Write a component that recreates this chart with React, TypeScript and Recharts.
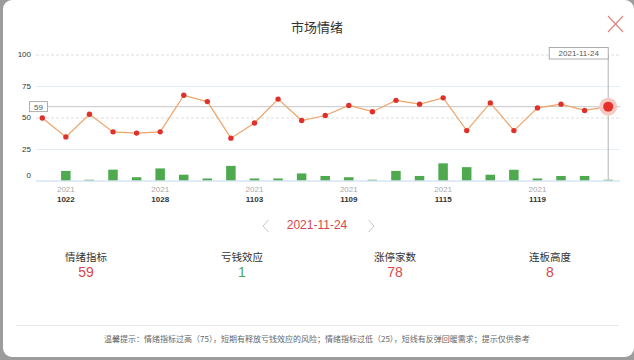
import { Bar, ComposedChart, Line, ReferenceLine, XAxis, YAxis } from "recharts";

const dates = [
  "2021-10-21", "2021-10-22", "2021-10-25", "2021-10-26", "2021-10-27",
  "2021-10-28", "2021-10-29", "2021-11-01", "2021-11-02", "2021-11-03",
  "2021-11-04", "2021-11-05", "2021-11-08", "2021-11-09", "2021-11-10",
  "2021-11-11", "2021-11-12", "2021-11-15", "2021-11-16", "2021-11-17",
  "2021-11-18", "2021-11-19", "2021-11-22", "2021-11-23", "2021-11-24",
];
// 情绪指标
const emotionIndex = [50, 35, 53, 39, 38, 39, 68, 63, 34, 46, 65, 48, 52, 60, 55, 64, 61, 66, 40, 62, 40, 58, 61, 56, 59];
// 亏钱效应
const lossEffect = [0, 8, 1, 9, 3, 10, 5, 2, 12, 2, 2, 6, 4, 3, 1, 8, 4, 14, 11, 5, 9, 2, 4, 4, 1];
const labeledDates = ["2021-10-22", "2021-10-28", "2021-11-03", "2021-11-09", "2021-11-15", "2021-11-19"];
const yTicks = [0, 25, 50, 75, 100];
const selectedDate = "2021-11-24";

const statLabels = ["情绪指标", "亏钱效应", "涨停家数", "连板高度"];
const statValues = ["59", "1", "78", "8"];
const statCenters = [86, 242, 395, 550];

const FONT = '"Liberation Sans", "Noto Sans CJK SC", sans-serif';
const CJK = '"Noto Sans CJK SC", sans-serif';
const RED = "#d8474b";
const GREEN = "#4fa94f";

const data = dates.map((date, i) => ({ date, emotion: emotionIndex[i], loss: lossEffect[i] }));
const selectedIdx = dates.indexOf(selectedDate);

function DateTick({ x, y, payload }: any) {
  if (!labeledDates.includes(payload.value)) return <g />;
  const [yr, m, d] = String(payload.value).split("-");
  return (
    <g fontFamily={FONT} fontSize={8} textAnchor="middle">
      <text x={x} y={y + 11} fill="#aaa">{yr}</text>
      <text x={x} y={y + 20.5} fill="#333" fontWeight={600}>{m + d}</text>
    </g>
  );
}

function ValueTick({ y, payload }: any) {
  const dy = payload.value === 0 ? -2.8 : 2;
  return (
    <text x={31} y={y + dy} textAnchor="end" fontSize={8} fontFamily={FONT} fill="#333">
      {payload.value}
    </text>
  );
}

function EmotionDot({ cx, cy, payload }: any) {
  if (payload.date === selectedDate) {
    return (
      <g>
        <circle cx={cx} cy={cy} r={9} fill="#f6c9c2" />
        <circle cx={cx} cy={cy} r={5} fill="#e5312a" />
      </g>
    );
  }
  return <circle cx={cx} cy={cy} r={2.7} fill="#e0302a" />;
}

function ValueBadge({ viewBox }: any) {
  const y = viewBox.y;
  return (
    <g>
      <rect x={29.5} y={y - 5} width={18} height={10} fill="#fff" stroke="#999" strokeWidth={0.8} />
      <text x={38.5} y={y + 3} textAnchor="middle" fontSize={8} fontFamily={FONT} fill="#555">
        {emotionIndex[selectedIdx]}
      </text>
    </g>
  );
}

function DateBadge({ viewBox }: any) {
  const x = viewBox.x;
  return (
    <g>
      <rect x={x - 59} y={47.5} width={59} height={11.5} fill="#fff" stroke="#999" strokeWidth={0.8} />
      <text x={x - 29.5} y={56.3} textAnchor="middle" fontSize={8} fontFamily={FONT} fill="#555">
        {selectedDate}
      </text>
    </g>
  );
}

function Chevron({ x, dir }: { x: number; dir: number }) {
  return (
    <svg style={{ position: "absolute", left: x, top: 219 }} width={8} height={14}>
      <polyline
        points={dir < 0 ? "6.5,1 1,7 6.5,13" : "1.5,1 7,7 1.5,13"}
        fill="none"
        stroke="#c8c8c8"
        strokeWidth={1}
      />
    </svg>
  );
}

export default function App() {
  return (
    <div style={{ position: "fixed", left: 0, top: 0, width: 634, height: 360, background: "#9c9c9c", overflow: "hidden" }}>
      <div style={{ position: "absolute", left: 3, top: 0, width: 631, height: 357, background: "#fff", borderRadius: 9 }} />
      <div style={{ position: "absolute", left: 0, top: 17, width: 634, textAlign: "center", fontFamily: CJK, fontSize: 13, color: "#333" }}>
        市场情绪
      </div>
      <svg style={{ position: "absolute", left: 607, top: 15 }} width={17} height={18}>
        <line x1={1} y1={1} x2={16} y2={17} stroke="#e08080" strokeWidth={1.1} />
        <line x1={16} y1={1} x2={1} y2={17} stroke="#e08080" strokeWidth={1.1} />
      </svg>

      <div style={{ position: "absolute", left: 0, top: 0 }}>
        <ComposedChart width={634} height={215} data={data} margin={{ top: 55, right: 14, bottom: 0, left: 0 }}>
          <ReferenceLine y={100} stroke="#dedede" strokeDasharray="3 2" />
          <ReferenceLine y={75} stroke="#e2edf8" />
          <ReferenceLine y={50} stroke="#dedede" strokeDasharray="3 2" />
          <ReferenceLine y={25} stroke="#e2edf8" />
          <XAxis
            dataKey="date"
            interval={0}
            tick={<DateTick />}
            tickLine={false}
            tickSize={0}
            tickMargin={0}
            height={34}
            axisLine={{ stroke: "#d5e5f5", strokeWidth: 1.5 }}
            padding={{ left: -5.5, right: 0 }}
          />
          <YAxis domain={[0, 100]} ticks={yTicks} width={36} axisLine={false} tickLine={false} tick={<ValueTick />} />
          <Bar dataKey="loss" fill={GREEN} barSize={9.5} isAnimationActive={false} />
          <ReferenceLine y={emotionIndex[selectedIdx]} stroke="#c6c6cc" strokeWidth={1} label={<ValueBadge />} />
          <ReferenceLine x={selectedDate} stroke="#a0a0a0" strokeWidth={0.8} label={<DateBadge />} />
          <Line
            type="linear"
            dataKey="emotion"
            stroke="#eea468"
            strokeWidth={1.2}
            dot={<EmotionDot />}
            activeDot={false}
            isAnimationActive={false}
          />
        </ComposedChart>
      </div>

      <Chevron x={262} dir={-1} />
      <div style={{ position: "absolute", left: 217, top: 218, width: 200, textAlign: "center", fontFamily: FONT, fontSize: 12, color: RED }}>
        {selectedDate}
      </div>
      <Chevron x={367} dir={1} />

      {statLabels.map((label, i) => (
        <div key={label} style={{ position: "absolute", left: statCenters[i] - 60, width: 120, top: 250, textAlign: "center" }}>
          <div style={{ fontFamily: CJK, fontSize: 10.5, color: "#333", lineHeight: "14px" }}>{label}</div>
          <div style={{ fontFamily: FONT, fontSize: 14, color: i === 1 ? GREEN : RED, lineHeight: "17px" }}>{statValues[i]}</div>
        </div>
      ))}

      <div style={{ position: "absolute", left: 16, top: 324.5, width: 603, height: 1, background: "#e6e6e6" }} />
      <div style={{ position: "absolute", left: 0, top: 333, width: 634, textAlign: "center", fontFamily: CJK, fontSize: 8, color: "#666", whiteSpace: "nowrap" }}>
        温馨提示：情绪指标过高（75），短期有释放亏钱效应的风险；情绪指标过低（25），短线有反弹回暖需求；提示仅供参考
      </div>
    </div>
  );
}
